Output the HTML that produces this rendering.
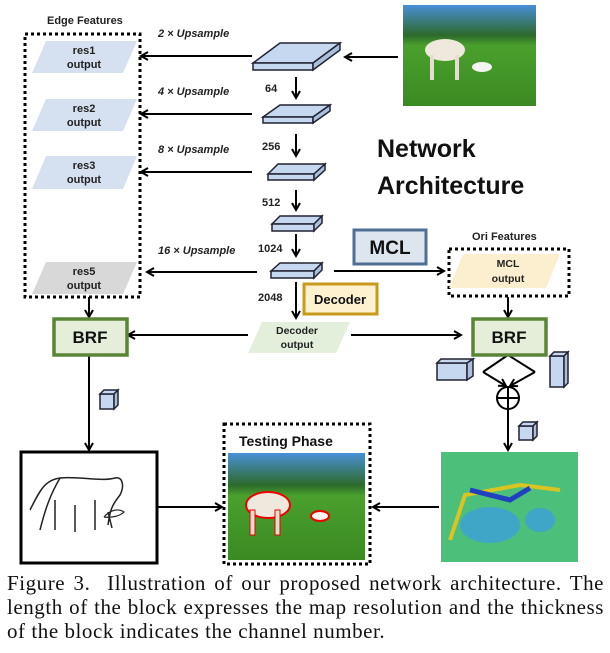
<!DOCTYPE html>
<html><head><meta charset="utf-8"><style>
body{margin:0;background:#fff;width:610px;height:653px;overflow:hidden}
svg text{font-family:"Liberation Sans",sans-serif}
.cap{position:absolute;left:7px;width:597px;font-family:"Liberation Serif",serif;font-size:21px;letter-spacing:0.55px;line-height:24px;color:#111;white-space:nowrap}
.j{text-align:justify;text-align-last:justify}
</style></head><body>
<svg width="610" height="653" style="position:absolute;left:0;top:0">
<defs>
<marker id="a" markerWidth="10" markerHeight="10" refX="8" refY="5" orient="auto" markerUnits="userSpaceOnUse"><path d="M1,1 L8,5 L1,9" fill="none" stroke="#000" stroke-width="2"/></marker>
<linearGradient id="sky" x1="0" y1="0" x2="0" y2="1"><stop offset="0" stop-color="#4a8fd8"/><stop offset="0.3" stop-color="#2c6a2a"/><stop offset="0.4" stop-color="#4aa02c"/><stop offset="1" stop-color="#3a8a22"/></linearGradient>
</defs>
<g font-weight="bold" font-size="11" fill="#222">
<text x="47" y="24">Edge Features</text>
<text x="472" y="240">Ori Features</text>
</g>
<rect x="25" y="34" width="115" height="263" fill="none" stroke="#000" stroke-width="3" stroke-dasharray="3,3"/>
<rect x="449" y="249" width="120" height="47" fill="none" stroke="#000" stroke-width="3" stroke-dasharray="3,3"/>
<rect x="224" y="424" width="146" height="140" fill="none" stroke="#000" stroke-width="3" stroke-dasharray="3,3"/>
<g font-weight="bold" font-size="11" fill="#222" text-anchor="middle">
<polygon points="46,41 137,41 123,73 32,73" fill="#d5e1f1"/><text x="84" y="54">res1</text><text x="84" y="68">output</text>
<polygon points="46,99 137,99 123,131 32,131" fill="#d5e1f1"/><text x="84" y="112">res2</text><text x="84" y="126">output</text>
<polygon points="46,156 137,156 123,189 32,189" fill="#d5e1f1"/><text x="84" y="169">res3</text><text x="84" y="183">output</text>
<polygon points="46,262 137,262 123,294 32,294" fill="#d8d8d8"/><text x="84" y="275">res5</text><text x="84" y="289">output</text>
<polygon points="463,254 560,254 546,288 449,288" fill="#fbefcf"/><text x="508" y="267" font-size="10.5">MCL</text><text x="508" y="282" font-size="10.5">output</text>
<polygon points="262,322 350,322 336,353 248,353" fill="#e3efdb"/><text x="297" y="334" font-size="10.5">Decoder</text><text x="297" y="348" font-size="10.5">output</text>
</g>
<g font-weight="bold" font-style="italic" font-size="11" fill="#222">
<text x="158" y="37">2 × Upsample</text>
<text x="158" y="95">4 × Upsample</text>
<text x="158" y="153">8 × Upsample</text>
<text x="158" y="254">16 × Upsample</text>
</g>
<g font-weight="bold" font-size="11" fill="#222">
<text x="265" y="92">64</text><text x="262" y="150">256</text><text x="262" y="206">512</text><text x="258" y="252">1024</text><text x="258" y="301">2048</text>
</g>
<g stroke="#000" stroke-width="2" marker-end="url(#a)" fill="none">
<line x1="252" y1="56" x2="141" y2="56"/>
<line x1="252" y1="114" x2="141" y2="114"/>
<line x1="252" y1="172" x2="141" y2="172"/>
<line x1="257" y1="272" x2="147" y2="272"/>
<line x1="398" y1="57" x2="345" y2="57"/>
<line x1="334" y1="271" x2="444" y2="271"/>
<line x1="248" y1="335" x2="128" y2="335"/>
<line x1="351" y1="335" x2="461" y2="335"/>
<line x1="296" y1="77" x2="296" y2="98"/>
<line x1="296" y1="134" x2="296" y2="156"/>
<line x1="296" y1="190" x2="296" y2="210"/>
<line x1="296" y1="234" x2="296" y2="256"/>
<line x1="296" y1="282" x2="296" y2="318"/>
<line x1="89" y1="297" x2="89" y2="317"/>
<line x1="508" y1="297" x2="508" y2="317"/>
<line x1="89" y1="356" x2="89" y2="450"/>
<line x1="508" y1="410" x2="508" y2="450"/>
<line x1="158" y1="507" x2="222" y2="507"/>
<line x1="439" y1="507" x2="373" y2="507"/>
<line x1="483" y1="372" x2="506" y2="386"/>
<line x1="535" y1="372" x2="510" y2="386"/>
</g>
<polyline points="483,372 508,355 535,372" fill="none" stroke="#000" stroke-width="2"/>
<circle cx="508" cy="398" r="11" fill="#fff" stroke="#000" stroke-width="2"/>
<line x1="497" y1="398" x2="519" y2="398" stroke="#000" stroke-width="2"/>
<line x1="508" y1="387" x2="508" y2="409" stroke="#000" stroke-width="2"/>
<g fill="#c5d8ef" stroke="#223" stroke-width="1.5">
<polygon points="253,63 280,43 340,43 313,63"/><polygon points="253,63 313,63 313,70 253,70"/><polygon points="313,63 340,43 340,50 313,70" fill="#a9bfdc"/>
<polygon points="263,117 280,105 330,105 313,117"/><polygon points="263,117 313,117 313,123 263,123"/><polygon points="313,117 330,105 330,111 313,123" fill="#a9bfdc"/>
<polygon points="268,174 278,164 325,164 314,174"/><polygon points="268,174 314,174 314,180 268,180"/><polygon points="314,174 325,164 325,170 314,180" fill="#a9bfdc"/>
<polygon points="272,224 280,216 322,216 314,224"/><polygon points="272,224 314,224 314,231 272,231"/><polygon points="314,224 322,216 322,223 314,231" fill="#a9bfdc"/>
<polygon points="271,271 280,263 322,263 314,271"/><polygon points="271,271 314,271 314,278 271,278"/><polygon points="314,271 322,263 322,270 314,278" fill="#a9bfdc"/>
<rect x="437" y="363" width="30" height="17"/><polygon points="437,363 441,359 473,359 467,363" /><polygon points="467,363 473,359 473,376 467,380" fill="#a9bfdc"/>
<rect x="550" y="356" width="14" height="31"/><polygon points="550,356 554,352 568,352 564,356"/><polygon points="564,356 568,352 568,383 564,387" fill="#a9bfdc"/>
<rect x="519" y="426" width="14" height="14"/><polygon points="519,426 523,422 537,422 533,426"/><polygon points="533,426 537,422 537,436 533,440" fill="#a9bfdc"/>
<rect x="100" y="394" width="14" height="15"/><polygon points="100,394 104,390 118,390 114,394"/><polygon points="114,394 118,390 118,405 114,409" fill="#a9bfdc"/>
</g>
<rect x="354" y="230" width="72" height="34" fill="#dde6ef" stroke="#4f6f95" stroke-width="3"/>
<text x="390" y="254" text-anchor="middle" font-weight="bold" font-size="19" fill="#111">MCL</text>
<rect x="304" y="284" width="73" height="30" fill="#fdf1cf" stroke="#c89a1c" stroke-width="3"/>
<text x="340" y="304" text-anchor="middle" font-weight="bold" font-size="13" fill="#111">Decoder</text>
<rect x="54" y="319" width="73" height="36" fill="#e5eed9" stroke="#5a8537" stroke-width="3.5"/>
<text x="90" y="343" text-anchor="middle" font-weight="bold" font-size="17" fill="#111">BRF</text>
<rect x="473" y="319" width="73" height="36" fill="#e5eed9" stroke="#5a8537" stroke-width="3.5"/>
<text x="509" y="343" text-anchor="middle" font-weight="bold" font-size="17" fill="#111">BRF</text>
<text x="377" y="157" font-weight="bold" font-size="25" fill="#111">Network</text>
<text x="377" y="194" font-weight="bold" font-size="25" fill="#111">Architecture</text>
<text x="239" y="446" font-weight="bold" font-size="14" fill="#111">Testing Phase</text>
<rect x="403" y="5" width="133" height="101" fill="url(#sky)"/>
<ellipse cx="445" cy="50" rx="20" ry="11" fill="#eee8dd"/><rect x="430" y="55" width="4" height="25" fill="#e5ddd0"/><rect x="455" y="55" width="4" height="25" fill="#e5ddd0"/><ellipse cx="482" cy="67" rx="10" ry="5" fill="#f4f4f0"/>
<rect x="228" y="453" width="137" height="107" fill="url(#sky)"/>
<ellipse cx="268" cy="505" rx="22" ry="13" fill="#eee8dd" stroke="#e00" stroke-width="2"/><rect x="250" y="510" width="5" height="25" fill="#e5ddd0" stroke="#e00"/><rect x="275" y="510" width="5" height="25" fill="#e5ddd0" stroke="#e00"/><ellipse cx="320" cy="516" rx="9" ry="5" fill="#f4f4f0" stroke="#e00" stroke-width="2"/>
<rect x="441" y="452" width="137" height="110" fill="#4cc07a"/>
<path d="M450,540 L465,495 L520,485 L560,490" stroke="#d9c421" stroke-width="4" fill="none"/>
<path d="M470,490 L510,500 L530,488" stroke="#2040c0" stroke-width="5" fill="none"/>
<ellipse cx="490" cy="525" rx="30" ry="18" fill="#3fa6c8"/><ellipse cx="540" cy="520" rx="15" ry="12" fill="#3fa6c8"/>
<rect x="21" y="452" width="136" height="111" fill="#fff" stroke="#000" stroke-width="3"/>
<path d="M30,510 C40,490 45,480 60,478 C80,476 100,482 115,478 C122,476 125,485 120,495 C112,505 110,510 108,525 M60,478 C50,495 45,510 40,530 M55,500 L55,530 M75,505 L75,532 M95,500 L95,530 M108,512 L112,528" stroke="#222" stroke-width="1.5" fill="none"/>
<path d="M104,517 C110,510 118,508 124,512 C120,516 112,518 104,517" stroke="#222" stroke-width="1.2" fill="none"/>
</svg>
<div class="cap j" style="top:571px">Figure 3.&nbsp; Illustration of our proposed network architecture. The</div>
<div class="cap j" style="top:595px">length of the block expresses the map resolution and the thickness</div>
<div class="cap" style="top:619px">of the block indicates the channel number.</div>
</body></html>
